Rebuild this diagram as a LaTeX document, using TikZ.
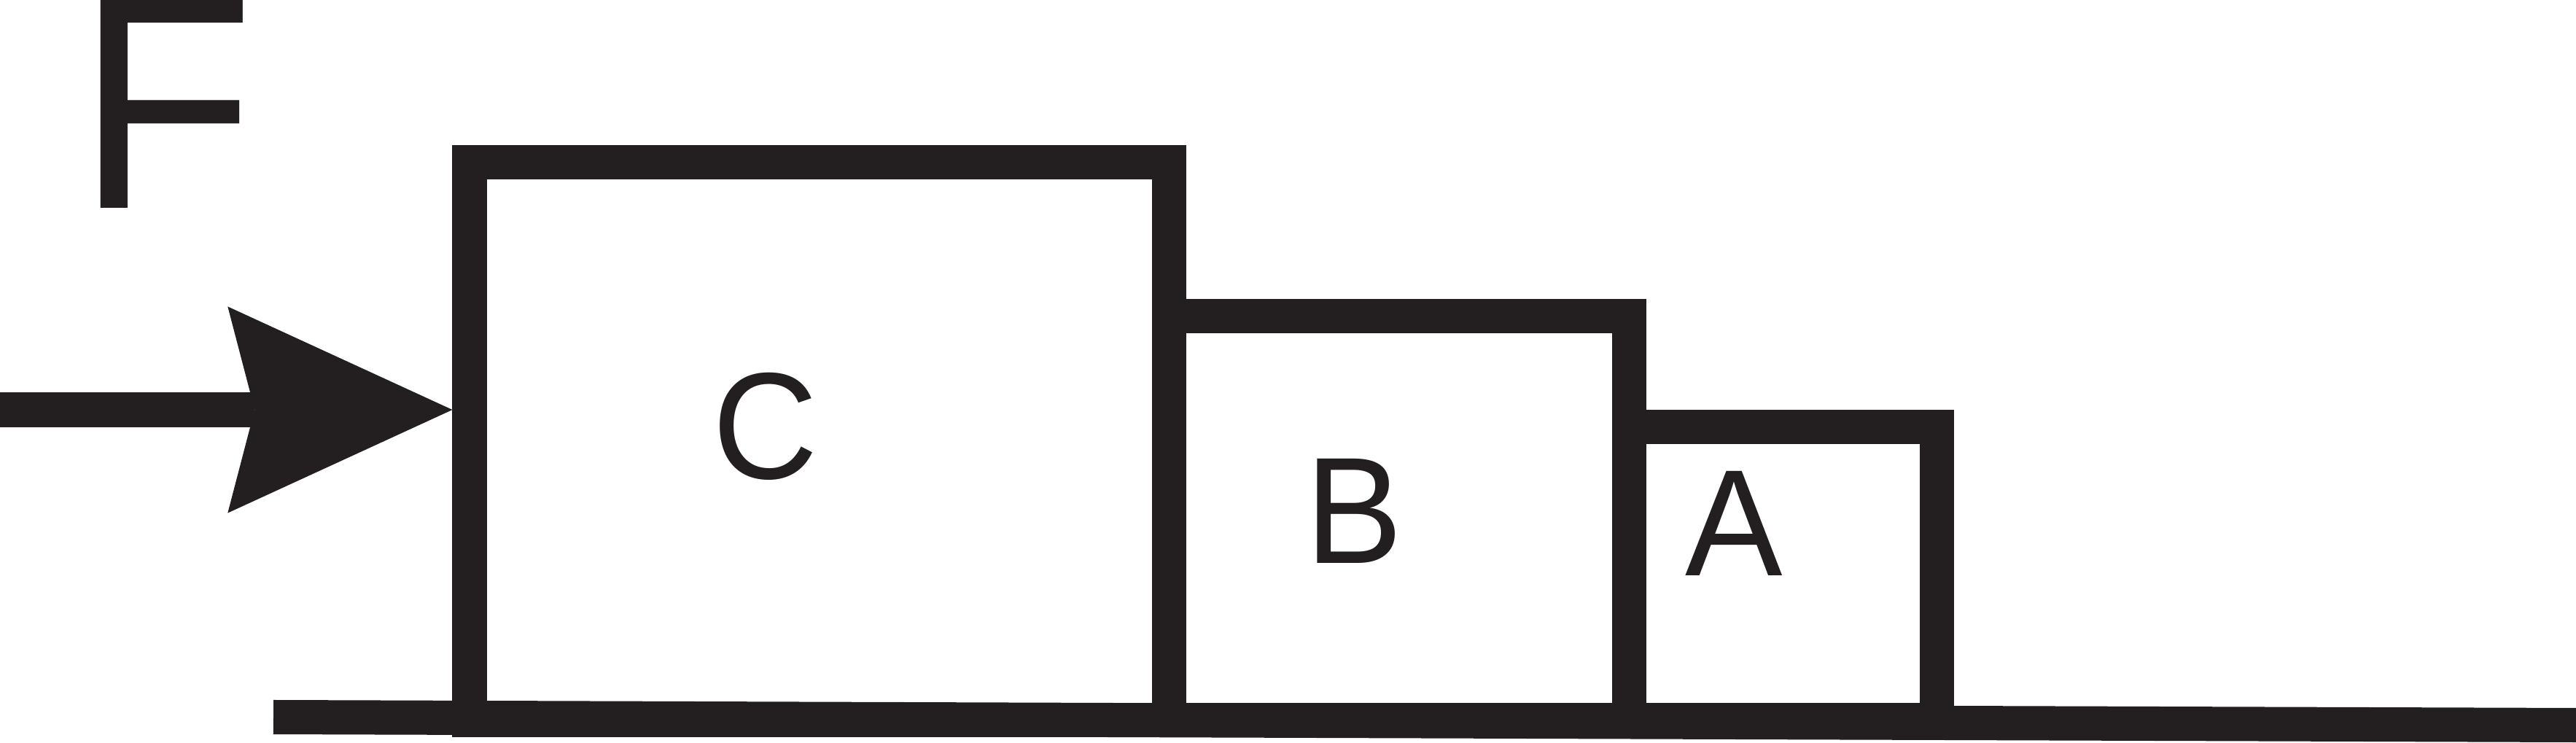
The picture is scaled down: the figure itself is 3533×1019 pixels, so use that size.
\documentclass[tikz,border=0pt]{standalone}
\usepackage{fontspec}
\setmainfont{Liberation Sans}
\usepackage{xcolor}
\usepackage{tikz}
\usetikzlibrary{positioning,arrows.meta,calc}
\definecolor{ink}{HTML}{231F20}

\begin{document}
\begin{tikzpicture}[
    x=0.01cm, y=-0.01cm,
    block/.style={rectangle, draw=ink, line width=0.47cm, inner sep=0pt, outer sep=0pt},
    tag/.style={text=ink, inner sep=0pt, yscale=1.04, transform shape, font=\fontsize{56.9pt}{60pt}\selectfont},
    force/.style={draw=ink, line width=0.47cm, -{Stealth[length=3.08cm, width=2.83cm, inset=0.37cm, line width=0pt]}}
]
\useasboundingbox (0,0) rectangle (3533,1019);

% Blocks, standing side by side
\node[block, minimum width=9.585cm, minimum height=7.65cm, anchor=south west] (C) at (644,987.5) {};
\node[block, minimum width=6.315cm, minimum height=5.54cm, anchor=south west] (B) at (C.south east) {};
\node[block, minimum width=4.215cm, minimum height=4.02cm, anchor=south west] (A) at (B.south east) {};

% Labels
\node[tag, anchor=base] (labC) at (1050,657) {C};
\node[tag, anchor=base] (labB) at (1857,772) {B};
\node[tag, anchor=base] (labA) at (2378,789) {A};
\node[tag, anchor=base west, font=\fontsize{113.5pt}{120pt}\selectfont] (labF) at (105,286) {F};

% Ground
\coordinate (g0) at (375,983.5);
\coordinate (g1) at (3533,994.5);
\draw[ink, line width=0.47cm] (g0) -- (g1);

% Applied force
\coordinate (f0) at (0,562);
\draw[force, shorten >=0.235cm] (f0) -- (f0 -| C.west);
\end{tikzpicture}
\end{document}
